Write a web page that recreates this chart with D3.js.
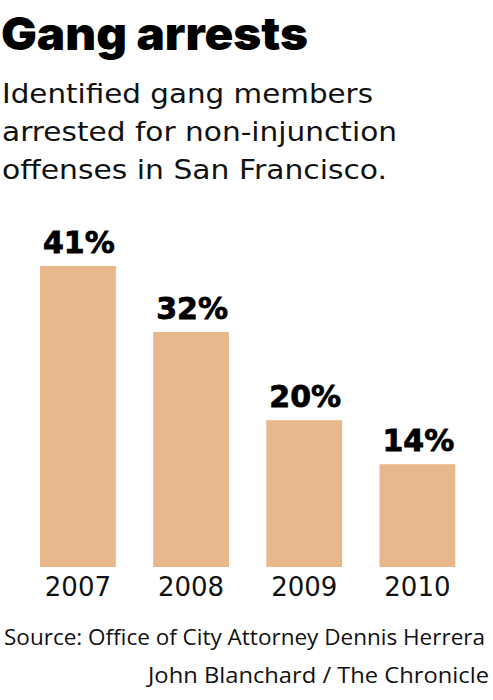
<!DOCTYPE html>
<html>
<head>
<meta charset="utf-8">
<script src="https://cdn.jsdelivr.net/npm/d3@7"></script>
<style>
  html, body { margin: 0; padding: 0; background: #fff; }
  svg { display: block; }
</style>
</head>
<body>
<svg id="chart" width="493" height="700"></svg>
<script>
const years = ["2007", "2008", "2009", "2010"];
const values = [41, 32, 20, 14];
const valueLabels = ["41%", "32%", "20%", "14%"];
const title = "Gang arrests";
const subtitleLines = ["Identified gang members", "arrested for non-injunction", "offenses in San Francisco."];
const source = "Source: Office of City Attorney Dennis Herrera";
const credit = "John Blanchard / The Chronicle";

const svg = d3.select("#chart");
const bodyFont = "'DejaVu Sans', 'Noto Sans', sans-serif";
const boldFont = "'DejaVu Sans', 'Noto Sans', sans-serif";
const noteFont = "'Open Sans', 'Noto Sans', sans-serif";

svg.append("text")
  .attr("x", 1).attr("y", 50)
  .attr("font-family", "Inter, 'DejaVu Sans', sans-serif").attr("font-weight", 900)
  .attr("font-size", 46).attr("fill", "#000")
  .attr("textLength", 307).attr("lengthAdjust", "spacingAndGlyphs")
  .text(title);

const subWidths = [371, 395, 385];
svg.selectAll("text.sub").data(subtitleLines).join("text")
  .attr("class", "sub")
  .attr("x", 2).attr("y", (d, i) => 103 + i * 38)
  .attr("font-family", bodyFont).attr("font-size", 27).attr("fill", "#111")
  .attr("textLength", (d, i) => subWidths[i]).attr("lengthAdjust", "spacingAndGlyphs")
  .text(d => d);

const x = d3.scaleBand().domain(years).range([40, 455.3]).paddingInner(0.33).paddingOuter(0);
const y = d3.scaleLinear().domain([0, 41]).range([567, 266]);

svg.selectAll("rect.bar").data(values).join("rect")
  .attr("class", "bar")
  .attr("x", (d, i) => x(years[i]))
  .attr("width", x.bandwidth())
  .attr("y", d => y(d))
  .attr("height", d => y(0) - y(d))
  .attr("fill", "#E6B88B");

svg.selectAll("text.val").data(values).join("text")
  .attr("class", "val")
  .attr("x", (d, i) => x(years[i]) + x.bandwidth() / 2 + 1)
  .attr("y", d => y(d) - 13)
  .attr("text-anchor", "middle")
  .attr("font-family", boldFont).attr("font-weight", "bold")
  .attr("font-size", 30).attr("fill", "#000")
  .attr("stroke", "#000").attr("stroke-width", 0.8)
  .text((d, i) => valueLabels[i]);

const xAxis = d3.axisBottom(x).tickSize(0).tickPadding(0);
const gx = svg.append("g").attr("transform", `translate(0,${y(0)})`).call(xAxis);
gx.select(".domain").remove();
gx.selectAll("text")
  .attr("y", 29).attr("dy", 0)
  .attr("font-family", bodyFont).attr("font-size", 26).attr("fill", "#111");

svg.append("text")
  .attr("x", 4).attr("y", 645)
  .attr("font-family", noteFont).attr("font-size", 22.5).attr("fill", "#111")
  .attr("textLength", 481).attr("lengthAdjust", "spacingAndGlyphs")
  .text(source);

svg.append("text")
  .attr("x", 148).attr("y", 683)
  .attr("font-family", noteFont).attr("font-size", 22.5).attr("fill", "#111")
  .attr("textLength", 341).attr("lengthAdjust", "spacingAndGlyphs")
  .text(credit);
</script>
</body>
</html>
